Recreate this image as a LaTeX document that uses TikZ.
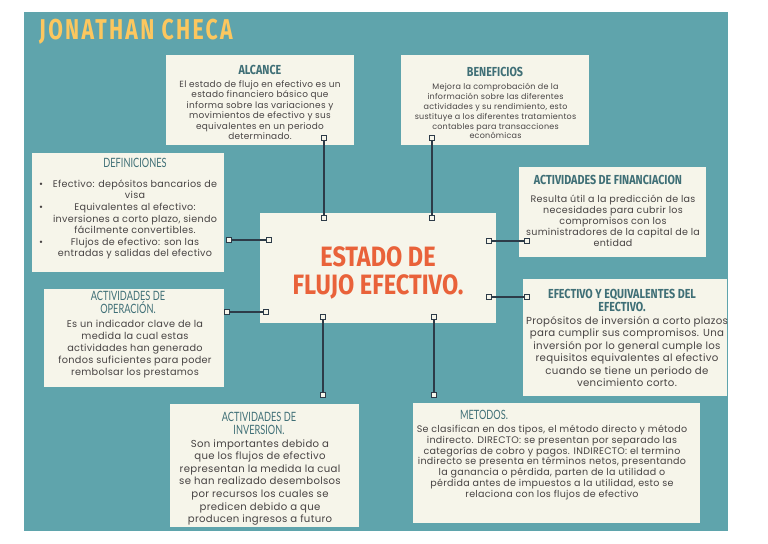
\documentclass[tikz,border=0pt]{standalone}
\usepackage{fontspec}
\setmainfont[LetterSpace=3]{Poppins}
\newfontfamily\headfont[FakeStretch=0.72]{Lato}
\newfontfamily\headbold[FakeStretch=0.82,BoldFont={Fira Sans Bold}]{Fira Sans}
\newfontfamily\titlefont[FakeStretch=0.74,LetterSpace=8]{Fira Sans}
\newfontfamily\centerfont[FakeStretch=0.84]{Fira Sans}
\definecolor{panel}{HTML}{5FA4AC}
\definecolor{paper}{HTML}{F6F5EA}
\definecolor{headc}{HTML}{3F6F76}
\definecolor{bodyc}{HTML}{474343}
\definecolor{linec}{HTML}{2D3B48}
\definecolor{titlec}{HTML}{FCC75F}
\definecolor{mainc}{HTML}{E9623A}
\newcommand{\fs}[2]{\fontsize{#1}{#2}\selectfont}
\tikzset{
  box/.style={fill=paper,draw=none,inner sep=0pt},
  txt/.style={inner sep=0pt,align=center,text=bodyc},
  hd/.style={inner sep=0pt,align=center,text=headc},
  pin/.style={draw=linec,fill=paper,line width=1.1pt,minimum size=4pt,inner sep=0pt,rectangle},
  link/.style={draw=linec,line width=1.5pt},
  linkh/.style={draw=linec,line width=1.3pt}
}
\begin{document}
\begin{tikzpicture}[x=0.75pt,y=-0.75pt]
\useasboundingbox (0,0) rectangle (768,543);
\fill[panel] (24,12) rectangle (727.5,531);
\node[inner sep=0pt,anchor=center,text=titlec,font=\titlefont\bfseries\fs{21.5}{23}] (title) at (136,31.5) {JONATHAN CHECA};

\node[box,minimum width=141pt,minimum height=67.5pt] (alcance) at (260,100) {};
\node[box,minimum width=141pt,minimum height=67.5pt] (beneficios) at (495,100) {};
\node[box,minimum width=144pt,minimum height=89.25pt] (definiciones) at (128,212.5) {};
\node[box,minimum width=140.25pt,minimum height=67.5pt] (financiacion) at (612.5,212) {};
\node[box,minimum width=177pt,minimum height=82.5pt] (centro) at (378,268) {};
\node[box,minimum width=135pt,minimum height=73.5pt] (operacion) at (134,338) {};
\node[box,minimum width=153pt,minimum height=87.75pt] (equivalentes) at (625,337.5) {};
\node[box,minimum width=141.75pt,minimum height=92.25pt] (inversion) at (264.5,465.5) {};
\node[box,minimum width=215.25pt,minimum height=90pt] (metodos) at (556.5,463) {};

\node[inner sep=0pt,align=center,text=mainc,font=\centerfont\bfseries\fs{21}{21}] (centrotxt) at (378,273) {ESTADO DE\\FLUJO EFECTIVO.};

\node[hd,font=\headbold\bfseries\fs{9.8}{10}] (h1) at (260,70) {ALCANCE};
\node[txt,font=\fs{6.7}{7.9}] (b1) at (260,110) {El estado de flujo en efectivo es un\\estado financiero básico que\\informa sobre las variaciones y\\movimientos de efectivo y sus\\equivalentes en un periodo\\determinado.};

\node[hd,font=\headbold\bfseries\fs{9.8}{10}] (h2) at (495,72) {BENEFICIOS};
\node[txt,font=\fs{6}{7.45}] (b2) at (495.5,111) {Mejora la comprobación de la\\información sobre las diferentes\\actividades y su rendimiento, esto\\sustituye a los diferentes tratamientos\\contables para transacciones\\económicas};

\node[hd,font=\headfont\fs{9.6}{10}] (h3) at (135,163) {DEFINICIONES};
\node[txt,font=\fs{7.2}{8.7}] (b3) at (135,219.5) {Efectivo: depósitos bancarios de\\visa\\Equivalentes al efectivo:\\inversiones a corto plazo, siendo\\fácilmente convertibles.\\Flujos de efectivo: son las\\entradas y salidas del efectivo};
\node[txt,font=\fs{7.2}{8}] (d1) at (41,185) {•};
\node[txt,font=\fs{7.2}{8}] (d2) at (41,208) {•};
\node[txt,font=\fs{7.2}{8}] (d3) at (41,243) {•};

\node[hd,font=\headbold\bfseries\fs{9.8}{10}] (h4) at (608,180) {ACTIVIDADES DE FINANCIACION};
\node[txt,font=\fs{7.15}{8.3}] (b4) at (613,221) {Resulta útil a la predicción de las\\necesidades para cubrir los\\compromisos con los\\suministradores de la capital de la\\entidad};

\node[hd,font=\headfont\fs{9.6}{9.75}] (h5) at (128,302.5) {ACTIVIDADES DE\\OPERACIÓN.};
\node[txt,font=\fs{7.3}{9}] (b5) at (135,349) {Es un indicador clave de la\\medida la cual estas\\actividades han generado\\fondos suficientes para poder\\rembolsar los prestamos};

\node[hd,font=\headbold\bfseries\fs{9.8}{9.75}] (h6) at (622,300.5) {EFECTIVO Y EQUIVALENTES DEL\\EFECTIVO.};
\node[txt,font=\fs{7.65}{9.4}] (b6) at (627,351.5) {Propósitos de inversión a corto plazos\\para cumplir sus compromisos. Una\\inversión por lo general cumple los\\requisitos equivalentes al efectivo\\cuando se tiene un periodo de\\vencimiento corto.};

\node[hd,font=\headfont\fs{9.6}{9.75}] (h7) at (259,423.5) {ACTIVIDADES DE\\INVERSION.};
\node[txt,font=\fs{7.6}{9.45}] (b7) at (260,482.5) {Son importantes debido a\\que los flujos de efectivo\\representan la medida la cual\\se han realizado desembolsos\\por recursos los cuales se\\predicen debido a que\\producen ingresos a futuro};

\node[hd,font=\headfont\fs{9.6}{10}] (h8) at (484,415) {METODOS.};
\node[txt,font=\fs{7.15}{8.2}] (b8) at (552,462.5) {Se clasifican en dos tipos, el método directo y método\\indirecto. DIRECTO: se presentan por separado las\\categorías de cobro y pagos. INDIRECTO: el termino\\indirecto se presenta en términos netos, presentando\\la ganancia o pérdida, parten de la utilidad o\\pérdida antes de impuestos a la utilidad, esto se\\relaciona con los flujos de efectivo};

\node[pin] (p1a) at (324,138) {}; \node[pin] (p1b) at (324,218) {};
\node[pin] (p2a) at (432,138) {}; \node[pin] (p2b) at (432,218) {};
\node[pin] (p3a) at (229,240) {}; \node[pin] (p3b) at (269,240) {};
\node[pin] (p4a) at (489,241) {}; \node[pin] (p4b) at (527,241) {};
\node[pin] (p5a) at (227,312) {}; \node[pin] (p5b) at (266,312) {};
\node[pin] (p6a) at (489,297) {}; \node[pin] (p6b) at (527,297) {};
\node[pin] (p7a) at (323,317) {}; \node[pin] (p7b) at (323,395) {};
\node[pin] (p8a) at (434,317) {}; \node[pin] (p8b) at (434,395) {};
\draw[link] (p1a) -- (p1b);
\draw[link] (p2a) -- (p2b);
\draw[linkh] (p3a) -- (p3b);
\draw[linkh] (p4a) -- (p4b);
\draw[linkh] (p5a) -- (p5b);
\draw[linkh] (p6a) -- (p6b);
\draw[link] (p7a) -- (p7b);
\draw[link] (p8a) -- (p8b);
\end{tikzpicture}
\end{document}
